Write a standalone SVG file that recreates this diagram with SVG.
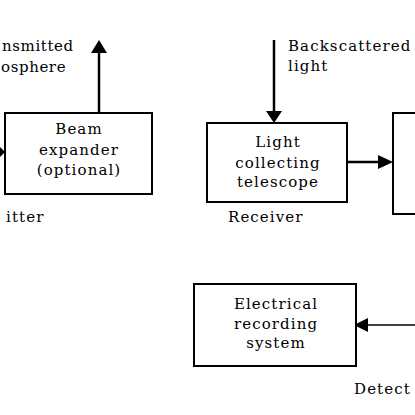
<svg xmlns="http://www.w3.org/2000/svg" width="415" height="415" viewBox="0 0 415 415">
<defs>
<style>
.box{fill:#fff;stroke:#000;stroke-width:2}
.ln{stroke:#000;stroke-width:2.5;fill:none}
.thin{stroke:#000;stroke-width:1.3;fill:none}
text{font-family:"DejaVu Serif","Liberation Serif",serif;font-size:15px;letter-spacing:1.1px;fill:#000}
.c{text-anchor:middle}
.tight{letter-spacing:0.6px}
</style>
</defs>
<rect width="415" height="415" fill="#fff"/>
<g id="connectors">
<line class="ln" x1="99" y1="112" x2="99" y2="52"/>
<polygon points="91,53 107,53 99,40"/>
<line class="ln" x1="274" y1="40" x2="274" y2="112"/>
<polygon points="266,111 282,111 274,123"/>
<line class="ln" x1="0" y1="152" x2="3" y2="152"/>
<polygon points="0,147 5,152 0,157"/>
<line class="ln" x1="347" y1="162" x2="380" y2="162"/>
<polygon points="378,155 378,169 393,162"/>
<line class="thin" x1="415" y1="325" x2="366" y2="325"/>
<polygon points="368,318 368,332 354,325"/>
</g>
<g id="label-transmitted">
<text x="2" y="51" class="tight">nsmitted</text>
<text x="1" y="72" class="tight">osphere</text>
</g>
<g id="label-backscattered">
<text x="288" y="51">Backscattered</text>
<text x="288" y="71">light</text>
</g>
<g id="beam-expander">
<rect class="box" x="5" y="113" width="147" height="81"/>
<text class="c" x="79" y="134">Beam</text>
<text class="c" x="79" y="155">expander</text>
<text class="c" x="79" y="175">(optional)</text>
</g>
<g id="label-transmitter">
<text x="6" y="222">itter</text>
</g>
<g id="telescope">
<rect class="box" x="207" y="123" width="140" height="79"/>
<text class="c" x="278" y="147">Light</text>
<text class="c" x="278" y="168">collecting</text>
<text class="c" x="278" y="187">telescope</text>
</g>
<g id="label-receiver">
<text x="228" y="222">Receiver</text>
</g>
<g id="right-box">
<rect class="box" x="393" y="113" width="30" height="101"/>
</g>
<g id="electrical">
<rect class="box" x="194" y="284" width="162" height="82"/>
<text class="c" x="276" y="309">Electrical</text>
<text class="c" x="276" y="329">recording</text>
<text class="c" x="276" y="348">system</text>
</g>
<g id="label-detect">
<text x="354" y="394">Detect</text>
</g>
</svg>
